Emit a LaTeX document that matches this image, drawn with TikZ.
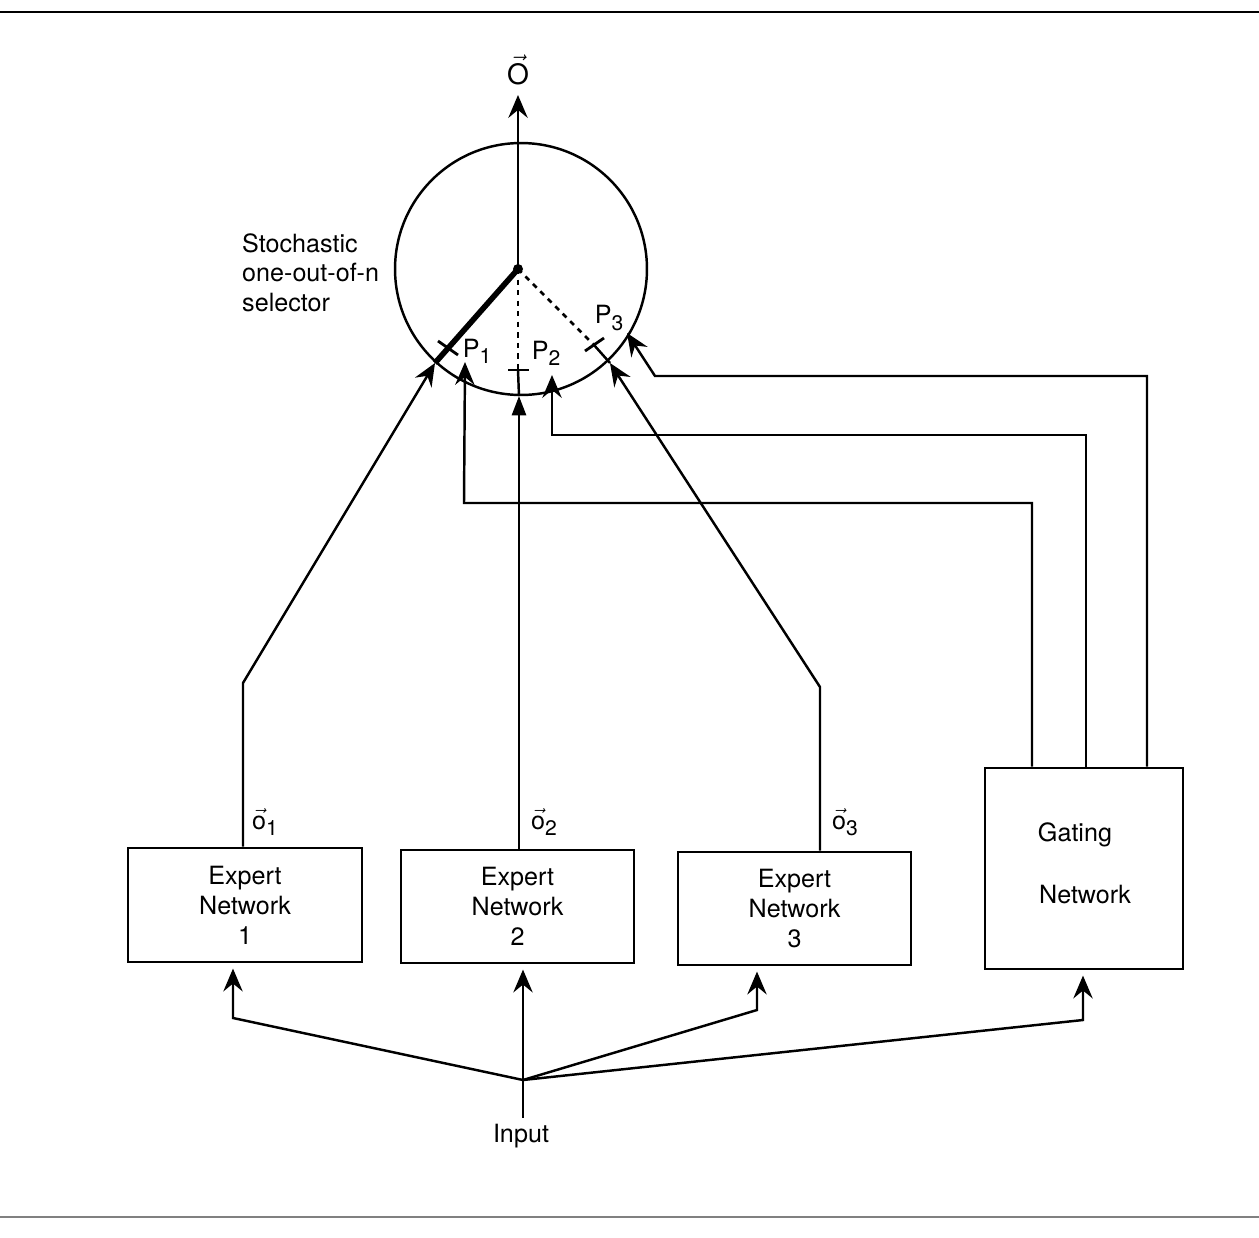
\documentclass[tikz,border=0pt]{standalone}
\usepackage{amsmath}
\usepackage{fontspec}
\setmainfont{TeX Gyre Heros}
\usetikzlibrary{arrows.meta}
\newcommand{\myvec}[1]{$\vec{\text{#1}}$}
\newcommand{\mysub}[1]{\raisebox{-3.5pt}{\fontsize{12}{12}\selectfont #1}}
\begin{document}
\begin{tikzpicture}[x=0.02cm,y=-0.02cm,line width=1.4pt,
  arr/.style={-{Stealth[length=13pt,width=11pt,inset=4.5pt]}},
  arrf/.style={-{Triangle[length=11pt,width=8pt]}},
  box/.style={draw,line width=1.5pt,align=center,inner sep=0pt,font=\fontsize{14.3}{17}\selectfont},
  lbl/.style={inner sep=0pt,font=\fontsize{14.3}{17}\selectfont},
  tick/.style={line width=1.6pt}]
\useasboundingbox (0,0) rectangle (1259,1238);
\draw[line width=0.8pt] (0,12) -- (1259,12);
\draw[line width=0.8pt,gray] (0,1217) -- (1259,1217);

% boxes
\node[box,minimum width=4.68cm,minimum height=2.28cm] (e1) at (245,905) {Expert\\Network\\1};
\node[box,minimum width=4.66cm,minimum height=2.26cm] (e2) at (517.5,906.5) {Expert\\Network\\2};
\node[box,minimum width=4.66cm,minimum height=2.26cm] (e3) at (794.5,908.5) {Expert\\Network\\3};
\node[box,minimum width=3.96cm,minimum height=4.02cm] (g) at (1084,868.5) {};
\node[lbl] (gt1) at (1075,835) {Gating};
\node[lbl] (gt2) at (1085,895) {Network};

% selector
\node[draw,circle,minimum size=5.04cm,inner sep=0pt,line width=1.4pt] (sel) at (521,269) {};
\coordinate (piv) at (518,269);
\node[lbl,align=left,anchor=north west] (stoch) at (241,232) {Stochastic\\one-out-of-n\\selector};

\coordinate (a1) at (435,363);
\coordinate (a2) at (519,396);
\coordinate (a3) at (610,363);
\coordinate (t2) at (518,370);
\coordinate (t3) at (594,345);

% output
\coordinate (otop) at (518,95);
\node[lbl,font=\fontsize{16}{17}\selectfont] (olab) at (518,70) {\myvec{O}};
\draw[arr] (piv) -- (otop);

% switch lines
\draw[line width=3.2pt] (piv) -- (a1);
\draw[dashed,line width=1.5pt] (piv) -- (t2);
\draw (t2) -- (a2);
\draw[dashed,line width=1.5pt] (piv) -- (t3);
\draw (t3) -- (a3);
\draw[tick] (438,341) -- (458,355);
\draw[tick] (508,370) -- (529,370);
\draw[tick] (585,351) -- (604,338);
\fill (piv) circle (5);

% expert outputs
\coordinate (k1) at (243,683);
\coordinate (k3) at (820,687);
\draw[arr] (e1.north -| k1) -- (k1) -- (a1);
\draw[arrf] (e2.north -| a2) -- (a2);
\draw[arr] (e3.north -| k3) -- (k3) -- (a3);
\node[lbl] (o1) at (265,822) {\myvec{o}\mysub{1}};
\node[lbl] (o2) at (544,822) {\myvec{o}\mysub{2}};
\node[lbl] (o3) at (845,822) {\myvec{o}\mysub{3}};

% gating outputs
\coordinate (g1) at (1032,503);
\coordinate (h1) at (464,503);
\coordinate (p1) at (465,362);
\coordinate (g2) at (1086,435);
\coordinate (h2) at (552,435);
\coordinate (p2) at (552,375);
\coordinate (g3) at (1147,376);
\coordinate (h3) at (655,376);
\coordinate (p3) at (627,333);
\draw[arr] (g.north -| g1) -- (g1) -- (h1) -- (p1);
\draw[arr] (g.north -| g2) -- (g2) -- (h2) -- (p2);
\draw[arr] (g.north -| g3) -- (g3) -- (h3) -- (p3);
\node[lbl] (lp1) at (477,351) {P\mysub{1}};
\node[lbl] (lp2) at (546,353) {P\mysub{2}};
\node[lbl] (lp3) at (609,318) {P\mysub{3}};

% input
\node[lbl] (inp) at (521,1136) {Input};
\coordinate (in) at (523,1080);
\coordinate (c1) at (233,1018);
\coordinate (c3) at (757,1010);
\coordinate (c4) at (1083,1020);
\draw (inp.north -| in) ++(0,-5) -- (in);
\draw[arr,shorten >=3pt] (in) -- (e2.south -| in);
\draw[arr,shorten >=3pt] (in) -- (c1) -- (e1.south -| c1);
\draw[arr,shorten >=3pt] (in) -- (c3) -- (e3.south -| c3);
\draw[arr,shorten >=3pt] (in) -- (c4) -- (g.south -| c4);
\end{tikzpicture}
\end{document}
